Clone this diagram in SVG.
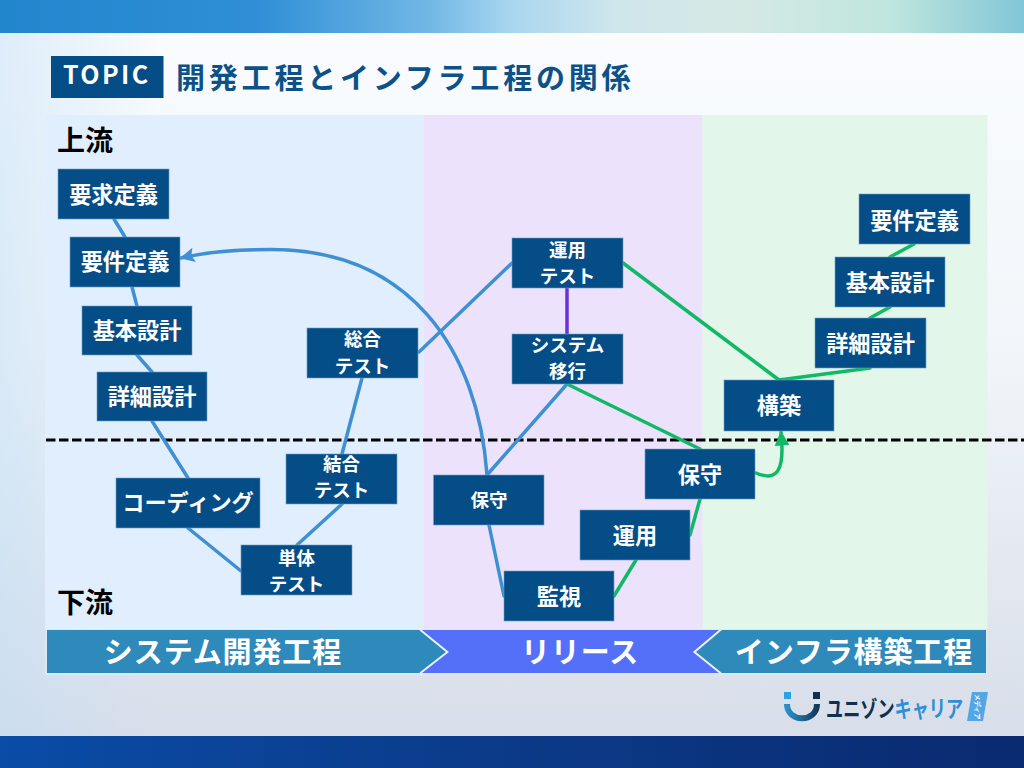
<svg xmlns="http://www.w3.org/2000/svg" width="1024" height="768" viewBox="0 0 1024 768">
<style>
text{font-family:"Noto Sans CJK JP","Noto Sans",sans-serif;font-weight:700}
.n rect{fill:#044d87;stroke:#6f9fc8;stroke-width:.6}
.n text{fill:#fff;text-anchor:middle}
.l{font-size:22.2px}
.s{font-size:18.5px}
.b{fill:none;stroke:#3f90d3;stroke-width:3.5;stroke-linecap:round}
.g{fill:none;stroke:#11b866;stroke-width:3.5;stroke-linecap:round}
.bar{font-size:29px;fill:#fff;letter-spacing:.9px;text-anchor:middle}
</style>
<defs>
<linearGradient id="bg" x1="0" y1="0" x2="0" y2="1"><stop offset="0" stop-color="#fafcfe"/><stop offset=".45" stop-color="#f2f6fa"/><stop offset="1" stop-color="#d6dce8"/></linearGradient>
<linearGradient id="side" x1="0" y1="0" x2="1" y2="0"><stop offset="0" stop-color="#bcdcf5" stop-opacity=".45"/><stop offset="1" stop-color="#bcdcf5" stop-opacity="0"/></linearGradient>
<linearGradient id="top" x1="0" y1="0" x2="1" y2="0"><stop offset="0" stop-color="#2286cd"/><stop offset=".25" stop-color="#2f8ed6"/><stop offset=".42" stop-color="#72b8e6"/><stop offset=".5" stop-color="#a9d6f0"/><stop offset=".6" stop-color="#cfe6ec"/><stop offset=".72" stop-color="#d5e8e4"/><stop offset=".87" stop-color="#bfe6de"/><stop offset="1" stop-color="#82c6d8"/></linearGradient>
<linearGradient id="bot" x1="0" y1="0" x2="1" y2="0"><stop offset="0" stop-color="#0a4ca6"/><stop offset=".5" stop-color="#0b3a88"/><stop offset="1" stop-color="#0a2a70"/></linearGradient>
<linearGradient id="arc" x1="0" y1="0" x2="1" y2="0"><stop offset="0" stop-color="#2a8fc8"/><stop offset="1" stop-color="#123a5a"/></linearGradient>
<marker id="ab" viewBox="0 0 5 5" markerWidth="4.2" markerHeight="4.2" refX="4.6" refY="2.5" orient="auto"><path d="M0 0L5 2.500L0 5L1 2.500Z" fill="#3f90d3"/></marker>
<marker id="ag" viewBox="0 0 5 5" markerWidth="4.2" markerHeight="4.2" refX="4.6" refY="2.5" orient="auto"><path d="M0 0L5 2.500L0 5Z" fill="#11b866"/></marker>
</defs>
<g id="background">
<rect width="1024" height="768" fill="url(#bg)"/>
<rect width="160" height="768" fill="url(#side)"/>
<rect width="1024" height="33" fill="url(#top)"/>
<rect y="736" width="1024" height="32" fill="url(#bot)"/>
</g>
<g id="title">
<rect x="51" y="56" width="112.500" height="42" fill="#044d87"/>
<text x="63" y="84" font-size="25" fill="#fff" letter-spacing="2.400">TOPIC</text>
<text x="176" y="89" font-size="29" fill="#0c5288" letter-spacing="3.800">開発工程とインフラ工程の関係</text>
</g>
<g id="panels">
<path d="M50 115H424V630H45V120Z" fill="#e1eefd"/>
<rect x="424" y="115" width="278.500" height="515" fill="#ece2fb"/>
<rect x="702.500" y="115" width="285" height="515" fill="#e3f6ea"/>
<text x="57" y="151" font-size="28" fill="#000">上流</text>
<text x="57" y="613" font-size="28" fill="#000">下流</text>
</g>
<g id="connectors">
<path d="M46 440H1024" fill="none" stroke="#000" stroke-width="3" stroke-dasharray="9.500 3.500"/>
<path class="b" d="M114 219L125 237M132 287L137 306M137 355L152 372M152 421L188 478M188 528L241 571M297 545L342 504M342 454L362 378M419 352L512 263M487 475L567 384M489 525L504 596"/>
<path class="b" marker-end="url(#ab)" d="M487 475C478 350 410 249 270 249.500C240 249.500 210 251 181 258"/>
<path d="M567 288V334" fill="none" stroke="#6a32d2" stroke-width="3.500"/>
<path class="g" d="M623 263L779 380M567 384L700 449M614 596L636 560M690 535L700 499M779 380L870 368M870 318L890 307M890 257L914 244"/>
<path class="g" marker-end="url(#ag)" d="M756 473C768 478 778 478 781 462C783 452 782 445 781 432"/>
</g>
<g class="n" id="n1"><rect x="58" y="169" width="111" height="50"/><text class="l" x="113.500" y="203">要求定義</text></g>
<g class="n" id="n2"><rect x="70" y="237" width="110" height="50"/><text class="l" x="125" y="270">要件定義</text></g>
<g class="n" id="n3"><rect x="82" y="306" width="110" height="49"/><text class="l" x="137" y="339">基本設計</text></g>
<g class="n" id="n4"><rect x="97" y="372" width="110" height="49"/><text class="l" x="152" y="405">詳細設計</text></g>
<g class="n" id="n5"><rect x="116" y="478" width="144" height="50"/><text class="l" x="188" y="511">コーディング</text></g>
<g class="n" id="n6"><rect x="241" y="545" width="111" height="50"/><text class="s" x="296.500" y="565">単体</text><text class="s" x="296.500" y="591">テスト</text></g>
<g class="n" id="n7"><rect x="286" y="454" width="111" height="50"/><text class="s" x="341.500" y="471">結合</text><text class="s" x="341.500" y="497">テスト</text></g>
<g class="n" id="n8"><rect x="307" y="328" width="111" height="50"/><text class="s" x="362.500" y="346">総合</text><text class="s" x="362.500" y="373">テスト</text></g>
<g class="n" id="n9"><rect x="512" y="238" width="111" height="50"/><text class="s" x="567.500" y="257">運用</text><text class="s" x="567.500" y="283">テスト</text></g>
<g class="n" id="n10"><rect x="512" y="334" width="111" height="50"/><text class="s" x="567.500" y="352">システム</text><text class="s" x="567.500" y="378">移行</text></g>
<g class="n" id="n11"><rect x="433.500" y="475" width="110.500" height="50"/><text class="s" x="489" y="507">保守</text></g>
<g class="n" id="n12"><rect x="504" y="571" width="110" height="50"/><text class="l" x="559" y="605">監視</text></g>
<g class="n" id="n13"><rect x="580" y="510" width="110" height="50"/><text class="l" x="635" y="544">運用</text></g>
<g class="n" id="n14"><rect x="645" y="449" width="110" height="50"/><text class="l" x="700" y="483">保守</text></g>
<g class="n" id="n15"><rect x="724" y="380" width="110" height="51"/><text class="l" x="779" y="414">構築</text></g>
<g class="n" id="n16"><rect x="815" y="318" width="111" height="50"/><text class="l" x="870.500" y="352">詳細設計</text></g>
<g class="n" id="n17"><rect x="835" y="257" width="110" height="50"/><text class="l" x="890" y="291">基本設計</text></g>
<g class="n" id="n18"><rect x="859" y="194" width="111" height="50"/><text class="l" x="914.500" y="229">要件定義</text></g>
<g id="bars">
<rect x="45" y="629" width="942" height="46" fill="#dbe9f4"/>
<path d="M47 630H420L447 652L420 673H47Z" fill="#2e8aba"/>
<path d="M422 630H720L694 652L720 673H422L449 652Z" fill="#5570f8"/>
<path d="M722 630H986V673H722L696 652Z" fill="#2e8aba"/>
<path d="M420 630L447 652L420 673M720 630L694 652L720 673" fill="none" stroke="#eef3fb" stroke-width="1.500"/>
<text class="bar" x="223" y="663">システム開発工程</text>
<text class="bar" x="580" y="663">リリース</text>
<text class="bar" x="854" y="663">インフラ構築工程</text>
</g>
<g id="logo">
<rect x="784" y="692" width="7" height="7" fill="#29a3e6"/>
<rect x="813" y="692" width="7" height="7" fill="#10304f"/>
<path d="M787 704C787 723 817 723 817 704" fill="none" stroke="url(#arc)" stroke-width="6"/>
<text x="826" y="716.500" font-size="23" fill="#10304f" textLength="137" lengthAdjust="spacingAndGlyphs">ユニゾン<tspan fill="#2f8fd4">キャリア</tspan></text>
<path d="M972 692H988L983 721H967Z" fill="#52a6e6"/>
<text transform="translate(975 694) rotate(90)" font-size="6.500" fill="#fff" x="0" y="0">メディア</text>
</g>
</svg>
